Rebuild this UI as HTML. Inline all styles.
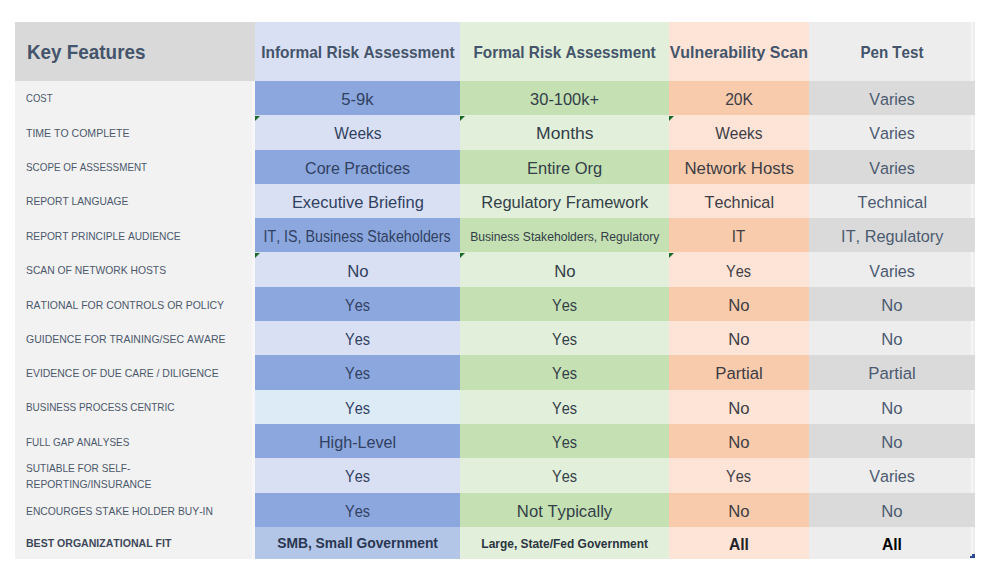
<!DOCTYPE html>
<html lang="en">
<head>
<meta charset="utf-8">
<title>Assessment comparison</title>
<style>
html,body{margin:0;padding:0;background:#fff;}
body{width:997px;height:581px;position:relative;overflow:hidden;font-family:"Liberation Sans",sans-serif;}
.c{position:absolute;display:flex;align-items:center;justify-content:center;box-sizing:border-box;white-space:nowrap;line-height:1.15;}
.c.l{justify-content:flex-start;padding-left:11px;}
.c.col{flex-direction:column;align-items:flex-start;justify-content:center;}
.t{display:inline-block;white-space:nowrap;font-kerning:none;font-variant-ligatures:none;position:relative;}
.c.col .t{line-height:15.7px;}
.tri{position:absolute;width:0;height:0;border-top:5px solid #1a6b2a;border-right:5px solid transparent;}
.mark{position:absolute;background:#2f4b8f;}
.strip{position:absolute;}
</style>
</head>
<body>
<div class="c l" style="left:15px;top:22px;width:240px;height:59px;background:#d9d9d9;"><span class="t" style="left:1px;font-size:21.11px;transform:scaleX(0.8935);transform-origin:left center;color:#44546a;top:1px;font-weight:bold;">Key Features</span></div>
<div class="c " style="left:255px;top:22px;width:205px;height:59px;background:#dae0f3;"><span class="t" style="font-size:17.25px;transform:scaleX(0.8967);transform-origin:center center;color:#44546a;top:1px;font-weight:bold;">Informal Risk Assessment</span></div>
<div class="c " style="left:460px;top:22px;width:209px;height:59px;background:#e2efda;"><span class="t" style="font-size:17.25px;transform:scaleX(0.8877);transform-origin:center center;color:#44546a;top:1px;font-weight:bold;">Formal Risk Assessment</span></div>
<div class="c " style="left:669px;top:22px;width:140px;height:59px;background:#fde4d7;"><span class="t" style="font-size:17.25px;transform:scaleX(0.9240);transform-origin:center center;color:#44546a;top:1px;font-weight:bold;">Vulnerability Scan</span></div>
<div class="c " style="left:809px;top:22px;width:166px;height:59px;background:#ededed;"><span class="t" style="font-size:17.25px;transform:scaleX(0.8769);transform-origin:center center;color:#44546a;top:1px;font-weight:bold;">Pen Test</span></div>
<div class="c l" style="left:15px;top:81px;width:240px;height:34px;background:#f2f2f2;"><span class="t" style="font-size:11.52px;transform:scaleX(0.8270);transform-origin:left center;color:#4c586c;top:1px;">COST</span></div>
<div class="c " style="left:255px;top:81px;width:205px;height:34px;background:#8ca7dd;"><span class="t" style="font-size:16.97px;transform:scaleX(0.9782);transform-origin:center center;color:#304162;top:2px;">5-9k</span></div>
<div class="c " style="left:460px;top:81px;width:209px;height:34px;background:#c5e0b3;"><span class="t" style="font-size:16.97px;transform:scaleX(0.9689);transform-origin:center center;color:#323e48;top:2px;">30-100k+</span></div>
<div class="c " style="left:669px;top:81px;width:140px;height:34px;background:#f8cbad;"><span class="t" style="font-size:16.97px;transform:scaleX(0.9240);transform-origin:center center;color:#3d3d44;top:2px;">20K</span></div>
<div class="c " style="left:809px;top:81px;width:166px;height:34px;background:#dadada;"><span class="t" style="font-size:16.97px;transform:scaleX(0.9508);transform-origin:center center;color:#4c5a70;top:2px;">Varies</span></div>
<div class="c l" style="left:15px;top:115px;width:240px;height:35px;background:#f2f2f2;"><span class="t" style="font-size:11.52px;transform:scaleX(0.9136);transform-origin:left center;color:#4c586c;top:1px;">TIME TO COMPLETE</span></div>
<div class="c " style="left:255px;top:115px;width:205px;height:35px;background:#dae0f3;"><span class="t" style="font-size:16.97px;transform:scaleX(0.9140);transform-origin:center center;color:#304162;top:1px;">Weeks</span></div>
<div class="c " style="left:460px;top:115px;width:209px;height:35px;background:#e2efda;"><span class="t" style="font-size:16.97px;transform:scaleX(1.0331);transform-origin:center center;color:#323e48;top:1px;">Months</span></div>
<div class="c " style="left:669px;top:115px;width:140px;height:35px;background:#fde4d7;"><span class="t" style="font-size:16.97px;transform:scaleX(0.9140);transform-origin:center center;color:#3d3d44;top:1px;">Weeks</span></div>
<div class="c " style="left:809px;top:115px;width:166px;height:35px;background:#ededed;"><span class="t" style="font-size:16.97px;transform:scaleX(0.9508);transform-origin:center center;color:#4c5a70;top:1px;">Varies</span></div>
<div class="c l" style="left:15px;top:150px;width:240px;height:34px;background:#f2f2f2;"><span class="t" style="font-size:11.52px;transform:scaleX(0.8566);transform-origin:left center;color:#4c586c;top:1px;">SCOPE OF ASSESSMENT</span></div>
<div class="c " style="left:255px;top:150px;width:205px;height:34px;background:#8ca7dd;"><span class="t" style="font-size:16.97px;transform:scaleX(0.9445);transform-origin:center center;color:#304162;top:2px;">Core Practices</span></div>
<div class="c " style="left:460px;top:150px;width:209px;height:34px;background:#c5e0b3;"><span class="t" style="font-size:16.97px;transform:scaleX(0.9723);transform-origin:center center;color:#323e48;top:2px;">Entire Org</span></div>
<div class="c " style="left:669px;top:150px;width:140px;height:34px;background:#f8cbad;"><span class="t" style="font-size:16.97px;transform:scaleX(0.9925);transform-origin:center center;color:#3d3d44;top:2px;">Network Hosts</span></div>
<div class="c " style="left:809px;top:150px;width:166px;height:34px;background:#dadada;"><span class="t" style="font-size:16.97px;transform:scaleX(0.9508);transform-origin:center center;color:#4c5a70;top:2px;">Varies</span></div>
<div class="c l" style="left:15px;top:184px;width:240px;height:34px;background:#f2f2f2;"><span class="t" style="font-size:11.52px;transform:scaleX(0.8890);transform-origin:left center;color:#4c586c;top:1px;">REPORT LANGUAGE</span></div>
<div class="c " style="left:255px;top:184px;width:205px;height:34px;background:#dae0f3;"><span class="t" style="font-size:16.97px;transform:scaleX(0.9723);transform-origin:center center;color:#304162;top:2px;">Executive Briefing</span></div>
<div class="c " style="left:460px;top:184px;width:209px;height:34px;background:#e2efda;"><span class="t" style="font-size:16.97px;transform:scaleX(0.9728);transform-origin:center center;color:#323e48;top:2px;">Regulatory Framework</span></div>
<div class="c " style="left:669px;top:184px;width:140px;height:34px;background:#fde4d7;"><span class="t" style="font-size:16.97px;transform:scaleX(0.9570);transform-origin:center center;color:#3d3d44;top:2px;">Technical</span></div>
<div class="c " style="left:809px;top:184px;width:166px;height:34px;background:#ededed;"><span class="t" style="font-size:16.97px;transform:scaleX(0.9570);transform-origin:center center;color:#4c5a70;top:2px;">Technical</span></div>
<div class="c l" style="left:15px;top:218px;width:240px;height:34px;background:#f2f2f2;"><span class="t" style="font-size:11.52px;transform:scaleX(0.8847);transform-origin:left center;color:#4c586c;top:2px;">REPORT PRINCIPLE AUDIENCE</span></div>
<div class="c " style="left:255px;top:218px;width:205px;height:34px;background:#8ca7dd;"><span class="t" style="font-size:15.57px;transform:scaleX(0.9167);transform-origin:center center;color:#304162;top:2px;">IT, IS, Business Stakeholders</span></div>
<div class="c " style="left:460px;top:218px;width:209px;height:34px;background:#c5e0b3;"><span class="t" style="font-size:12.82px;transform:scaleX(0.9485);transform-origin:center center;color:#323e48;top:2px;">Business Stakeholders, Regulatory</span></div>
<div class="c " style="left:669px;top:218px;width:140px;height:34px;background:#f8cbad;"><span class="t" style="font-size:16.97px;transform:scaleX(0.8921);transform-origin:center center;color:#3d3d44;top:2px;">IT</span></div>
<div class="c " style="left:809px;top:218px;width:166px;height:34px;background:#dadada;"><span class="t" style="font-size:16.97px;transform:scaleX(0.9602);transform-origin:center center;color:#4c5a70;top:2px;">IT, Regulatory</span></div>
<div class="c l" style="left:15px;top:252px;width:240px;height:35px;background:#f2f2f2;"><span class="t" style="font-size:11.52px;transform:scaleX(0.8972);transform-origin:left center;color:#4c586c;top:1px;">SCAN OF NETWORK HOSTS</span></div>
<div class="c " style="left:255px;top:252px;width:205px;height:35px;background:#dae0f3;"><span class="t" style="font-size:16.97px;transform:scaleX(0.9839);transform-origin:center center;color:#304162;top:2px;">No</span></div>
<div class="c " style="left:460px;top:252px;width:209px;height:35px;background:#e2efda;"><span class="t" style="font-size:16.97px;transform:scaleX(0.9839);transform-origin:center center;color:#323e48;top:2px;">No</span></div>
<div class="c " style="left:669px;top:252px;width:140px;height:35px;background:#fde4d7;"><span class="t" style="font-size:16.97px;transform:scaleX(0.8563);transform-origin:center center;color:#3d3d44;top:2px;">Yes</span></div>
<div class="c " style="left:809px;top:252px;width:166px;height:35px;background:#ededed;"><span class="t" style="font-size:16.97px;transform:scaleX(0.9508);transform-origin:center center;color:#4c5a70;top:2px;">Varies</span></div>
<div class="c l" style="left:15px;top:287px;width:240px;height:34px;background:#f2f2f2;"><span class="t" style="font-size:11.52px;transform:scaleX(0.9077);transform-origin:left center;color:#4c586c;top:2px;">RATIONAL FOR CONTROLS OR POLICY</span></div>
<div class="c " style="left:255px;top:287px;width:205px;height:34px;background:#8ca7dd;"><span class="t" style="font-size:16.97px;transform:scaleX(0.8563);transform-origin:center center;color:#304162;top:2px;">Yes</span></div>
<div class="c " style="left:460px;top:287px;width:209px;height:34px;background:#c5e0b3;"><span class="t" style="font-size:16.97px;transform:scaleX(0.8563);transform-origin:center center;color:#323e48;top:2px;">Yes</span></div>
<div class="c " style="left:669px;top:287px;width:140px;height:34px;background:#f8cbad;"><span class="t" style="font-size:16.97px;transform:scaleX(0.9839);transform-origin:center center;color:#3d3d44;top:2px;">No</span></div>
<div class="c " style="left:809px;top:287px;width:166px;height:34px;background:#dadada;"><span class="t" style="font-size:16.97px;transform:scaleX(0.9839);transform-origin:center center;color:#4c5a70;top:2px;">No</span></div>
<div class="c l" style="left:15px;top:321px;width:240px;height:34px;background:#f2f2f2;"><span class="t" style="font-size:11.52px;transform:scaleX(0.9116);transform-origin:left center;color:#4c586c;top:2px;">GUIDENCE FOR TRAINING/SEC AWARE</span></div>
<div class="c " style="left:255px;top:321px;width:205px;height:34px;background:#dae0f3;"><span class="t" style="font-size:16.97px;transform:scaleX(0.8563);transform-origin:center center;color:#304162;top:2px;">Yes</span></div>
<div class="c " style="left:460px;top:321px;width:209px;height:34px;background:#e2efda;"><span class="t" style="font-size:16.97px;transform:scaleX(0.8563);transform-origin:center center;color:#323e48;top:2px;">Yes</span></div>
<div class="c " style="left:669px;top:321px;width:140px;height:34px;background:#fde4d7;"><span class="t" style="font-size:16.97px;transform:scaleX(0.9839);transform-origin:center center;color:#3d3d44;top:2px;">No</span></div>
<div class="c " style="left:809px;top:321px;width:166px;height:34px;background:#ededed;"><span class="t" style="font-size:16.97px;transform:scaleX(0.9839);transform-origin:center center;color:#4c5a70;top:2px;">No</span></div>
<div class="c l" style="left:15px;top:355px;width:240px;height:35px;background:#f2f2f2;"><span class="t" style="font-size:11.52px;transform:scaleX(0.9067);transform-origin:left center;color:#4c586c;top:1px;">EVIDENCE OF DUE CARE / DILIGENCE</span></div>
<div class="c " style="left:255px;top:355px;width:205px;height:35px;background:#8ca7dd;"><span class="t" style="font-size:16.97px;transform:scaleX(0.8563);transform-origin:center center;color:#304162;top:1px;">Yes</span></div>
<div class="c " style="left:460px;top:355px;width:209px;height:35px;background:#c5e0b3;"><span class="t" style="font-size:16.97px;transform:scaleX(0.8563);transform-origin:center center;color:#323e48;top:1px;">Yes</span></div>
<div class="c " style="left:669px;top:355px;width:140px;height:35px;background:#f8cbad;"><span class="t" style="font-size:16.97px;transform:scaleX(0.9901);transform-origin:center center;color:#3d3d44;top:1px;">Partial</span></div>
<div class="c " style="left:809px;top:355px;width:166px;height:35px;background:#dadada;"><span class="t" style="font-size:16.97px;transform:scaleX(0.9901);transform-origin:center center;color:#4c5a70;top:1px;">Partial</span></div>
<div class="c l" style="left:15px;top:390px;width:240px;height:34px;background:#f2f2f2;"><span class="t" style="font-size:11.52px;transform:scaleX(0.8621);transform-origin:left center;color:#4c586c;top:1px;">BUSINESS PROCESS CENTRIC</span></div>
<div class="c " style="left:255px;top:390px;width:205px;height:34px;background:#ddebf7;"><span class="t" style="font-size:16.97px;transform:scaleX(0.8563);transform-origin:center center;color:#304162;top:2px;">Yes</span></div>
<div class="c " style="left:460px;top:390px;width:209px;height:34px;background:#e2efda;"><span class="t" style="font-size:16.97px;transform:scaleX(0.8563);transform-origin:center center;color:#323e48;top:2px;">Yes</span></div>
<div class="c " style="left:669px;top:390px;width:140px;height:34px;background:#fde4d7;"><span class="t" style="font-size:16.97px;transform:scaleX(0.9839);transform-origin:center center;color:#3d3d44;top:2px;">No</span></div>
<div class="c " style="left:809px;top:390px;width:166px;height:34px;background:#ededed;"><span class="t" style="font-size:16.97px;transform:scaleX(0.9839);transform-origin:center center;color:#4c5a70;top:2px;">No</span></div>
<div class="c l" style="left:15px;top:424px;width:240px;height:34px;background:#f2f2f2;"><span class="t" style="font-size:11.52px;transform:scaleX(0.8634);transform-origin:left center;color:#4c586c;top:2px;">FULL GAP ANALYSES</span></div>
<div class="c " style="left:255px;top:424px;width:205px;height:34px;background:#8ca7dd;"><span class="t" style="font-size:16.97px;transform:scaleX(0.9537);transform-origin:center center;color:#304162;top:2px;">High-Level</span></div>
<div class="c " style="left:460px;top:424px;width:209px;height:34px;background:#c5e0b3;"><span class="t" style="font-size:16.97px;transform:scaleX(0.8563);transform-origin:center center;color:#323e48;top:2px;">Yes</span></div>
<div class="c " style="left:669px;top:424px;width:140px;height:34px;background:#f8cbad;"><span class="t" style="font-size:16.97px;transform:scaleX(0.9839);transform-origin:center center;color:#3d3d44;top:2px;">No</span></div>
<div class="c " style="left:809px;top:424px;width:166px;height:34px;background:#dadada;"><span class="t" style="font-size:16.97px;transform:scaleX(0.9839);transform-origin:center center;color:#4c5a70;top:2px;">No</span></div>
<div class="c l col" style="left:15px;top:458px;width:240px;height:35px;background:#f2f2f2;"><span class="t" style="font-size:11.52px;transform:scaleX(0.8765);transform-origin:left center;color:#4c586c;top:1px;">SUTIABLE FOR SELF-</span><span class="t" style="font-size:11.52px;transform:scaleX(0.8996);transform-origin:left center;color:#4c586c;top:1px;">REPORTING/INSURANCE</span></div>
<div class="c " style="left:255px;top:458px;width:205px;height:35px;background:#dae0f3;"><span class="t" style="font-size:16.97px;transform:scaleX(0.8563);transform-origin:center center;color:#304162;top:1px;">Yes</span></div>
<div class="c " style="left:460px;top:458px;width:209px;height:35px;background:#e2efda;"><span class="t" style="font-size:16.97px;transform:scaleX(0.8563);transform-origin:center center;color:#323e48;top:1px;">Yes</span></div>
<div class="c " style="left:669px;top:458px;width:140px;height:35px;background:#fde4d7;"><span class="t" style="font-size:16.97px;transform:scaleX(0.8563);transform-origin:center center;color:#3d3d44;top:1px;">Yes</span></div>
<div class="c " style="left:809px;top:458px;width:166px;height:35px;background:#ededed;"><span class="t" style="font-size:16.97px;transform:scaleX(0.9508);transform-origin:center center;color:#4c5a70;top:1px;">Varies</span></div>
<div class="c l" style="left:15px;top:493px;width:240px;height:34px;background:#f2f2f2;"><span class="t" style="font-size:11.52px;transform:scaleX(0.8959);transform-origin:left center;color:#4c586c;top:2px;">ENCOURGES STAKE HOLDER BUY-IN</span></div>
<div class="c " style="left:255px;top:493px;width:205px;height:34px;background:#8ca7dd;"><span class="t" style="font-size:16.97px;transform:scaleX(0.8563);transform-origin:center center;color:#304162;top:2px;">Yes</span></div>
<div class="c " style="left:460px;top:493px;width:209px;height:34px;background:#c5e0b3;"><span class="t" style="font-size:16.97px;transform:scaleX(0.9821);transform-origin:center center;color:#323e48;top:2px;">Not Typically</span></div>
<div class="c " style="left:669px;top:493px;width:140px;height:34px;background:#f8cbad;"><span class="t" style="font-size:16.97px;transform:scaleX(0.9839);transform-origin:center center;color:#3d3d44;top:2px;">No</span></div>
<div class="c " style="left:809px;top:493px;width:166px;height:34px;background:#dadada;"><span class="t" style="font-size:16.97px;transform:scaleX(0.9839);transform-origin:center center;color:#4c5a70;top:2px;">No</span></div>
<div class="c l" style="left:15px;top:527px;width:240px;height:32px;background:#f2f2f2;"><span class="t" style="font-size:11.64px;transform:scaleX(0.9076);transform-origin:left center;color:#3e485a;font-weight:bold;">BEST ORGANIZATIONAL FIT</span></div>
<div class="c " style="left:255px;top:527px;width:205px;height:32px;background:#b4c6e7;"><span class="t" style="font-size:15.08px;transform:scaleX(0.9183);transform-origin:center center;color:#2a3752;font-weight:bold;">SMB, Small Government</span></div>
<div class="c " style="left:460px;top:527px;width:209px;height:32px;background:#e2efda;"><span class="t" style="font-size:13.01px;transform:scaleX(0.9189);transform-origin:center center;color:#2b353f;top:1px;font-weight:bold;">Large, State/Fed Government</span></div>
<div class="c " style="left:669px;top:527px;width:140px;height:32px;background:#fde4d7;"><span class="t" style="font-size:17.15px;transform:scaleX(0.9111);transform-origin:center center;color:#222228;top:2px;font-weight:bold;">All</span></div>
<div class="c " style="left:809px;top:527px;width:166px;height:32px;background:#ededed;"><span class="t" style="font-size:17.15px;transform:scaleX(0.9111);transform-origin:center center;color:#000;top:2px;font-weight:bold;">All</span></div>
<div class="tri" style="left:255px;top:116px;"></div>
<div class="tri" style="left:460px;top:116px;"></div>
<div class="tri" style="left:669px;top:116px;"></div>
<div class="tri" style="left:255px;top:253px;"></div>
<div class="tri" style="left:460px;top:253px;"></div>
<div class="tri" style="left:669px;top:253px;"></div>
<div class="strip" style="left:252px;top:81px;width:3px;height:478px;background:#f7f7fa;"></div>
<div class="strip" style="left:971px;top:115px;width:2px;height:35px;background:#f6f6f6;"></div>
<div class="strip" style="left:971px;top:184px;width:2px;height:34px;background:#f6f6f6;"></div>
<div class="strip" style="left:971px;top:252px;width:2px;height:35px;background:#f6f6f6;"></div>
<div class="strip" style="left:971px;top:321px;width:2px;height:34px;background:#f6f6f6;"></div>
<div class="strip" style="left:971px;top:390px;width:2px;height:34px;background:#f6f6f6;"></div>
<div class="strip" style="left:971px;top:458px;width:2px;height:35px;background:#f6f6f6;"></div>
<div class="strip" style="left:971px;top:527px;width:2px;height:32px;background:#f6f6f6;"></div>
<div class="strip" style="left:971px;top:22px;width:2px;height:59px;background:#f6f6f6;"></div>
<div class="mark" style="left:972px;top:554px;width:3px;height:4px;"></div>
<div class="mark" style="left:970px;top:556px;width:5px;height:2px;"></div>
</body>
</html>
